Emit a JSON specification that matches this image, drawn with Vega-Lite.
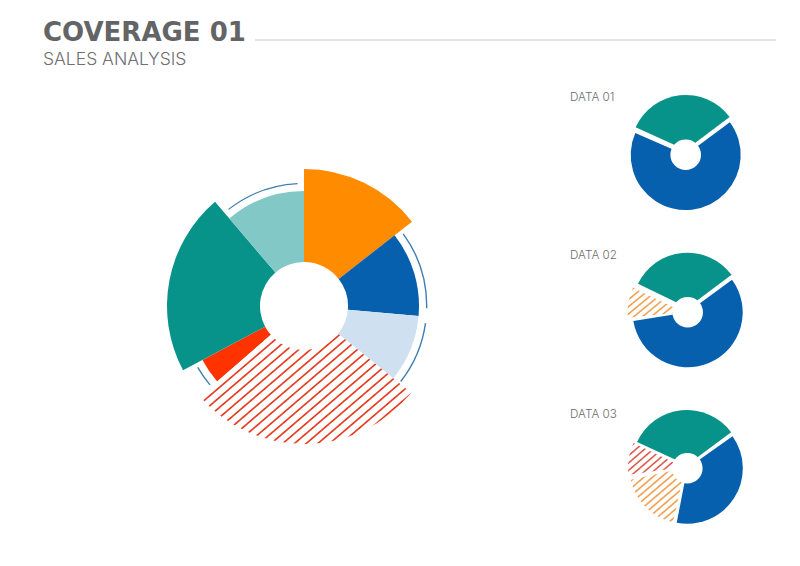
{"$schema":"https://vega.github.io/schema/vega-lite/v6.json","width":800,"height":566,"padding":0,"autosize":"none","background":"white","view":{"stroke":null},
"data":{"values":[
{"chart":"main","part":"orange","cx":304,"cy":306,"start":0,"end":52,"r0":44,"r":137},
{"chart":"main","part":"blue","cx":304,"cy":306,"start":52,"end":95,"r0":44,"r":115},
{"chart":"main","part":"lightblue","cx":304,"cy":306,"start":95,"end":129,"r0":44,"r":115},
{"chart":"main","part":"red","cx":304,"cy":306,"start":229,"end":242,"r0":44,"r":115},
{"chart":"main","part":"teal","cx":304,"cy":306,"start":242,"end":319.5,"r0":44,"r":137},
{"chart":"main","part":"lightteal","cx":304,"cy":306,"start":319.5,"end":360,"r0":44,"r":115},
{"chart":"main","part":"line","cx":304,"cy":306,"start":322,"end":357,"r0":122,"r":123.2},
{"chart":"main","part":"line","cx":304,"cy":306,"start":54,"end":91,"r0":122,"r":123.4},
{"chart":"main","part":"line","cx":304,"cy":306,"start":98,"end":128,"r0":122,"r":123.4},
{"chart":"main","part":"line","cx":304,"cy":306,"start":230,"end":240,"r0":122,"r":123.4},
{"chart":"d1","part":"blue","cx":685.7,"cy":155,"start":53.4,"end":293.5,"r0":0,"r":55},
{"chart":"d1","part":"teal","cx":685.7,"cy":150,"start":294.4,"end":413,"r0":0,"r":55},
{"chart":"d2","part":"blue","cx":687.7,"cy":312.3,"start":53.7,"end":261,"r0":0,"r":55},
{"chart":"d2","part":"teal","cx":687.5,"cy":307.7,"start":295.8,"end":413.2,"r0":0,"r":55},
{"chart":"d3","part":"blue","cx":687.3,"cy":468.3,"start":54.6,"end":191,"r0":0,"r":55.5},
{"chart":"d3","part":"teal","cx":687,"cy":465,"start":294.7,"end":413.4,"r0":0,"r":55},
{"chart":"main","part":"hatch_main","cx":304,"cy":306,"start":129,"end":229,"r0":44,"r":138},
{"chart":"d2","part":"hatch_d2","cx":683,"cy":312,"start":264,"end":296,"r0":0,"r":55.5},
{"chart":"d3","part":"hatch_d3o","cx":685,"cy":468,"start":192.5,"end":257.7,"r0":0,"r":55.5},
{"chart":"d3","part":"hatch_d3r","cx":683,"cy":467,"start":262,"end":296,"r0":0,"r":55},
{"chart":"d1","part":"hole","cx":685.7,"cy":154.7,"start":0,"end":360,"r0":0,"r":15.3},
{"chart":"d2","part":"hole","cx":687.7,"cy":312.3,"start":0,"end":360,"r0":0,"r":15.3},
{"chart":"d3","part":"hole","cx":687.3,"cy":468.3,"start":0,"end":360,"r0":0,"r":15.3}
]},
"encoding":{
"x":{"field":"cx","type":"quantitative","scale":{"domain":[0,800],"range":[0,800]},"axis":null},
"y":{"field":"cy","type":"quantitative","scale":{"domain":[0,566],"range":[0,566]},"axis":null},
"theta":{"field":"start","type":"quantitative","stack":null,"scale":{"domain":[0,360],"range":[0,6.283185]}},
"theta2":{"field":"end"},
"radius":{"field":"r","type":"quantitative","scale":{"type":"linear","domain":[0,400],"range":[0,400]}},
"radius2":{"field":"r0"}
},
"layer":[
{"transform":[{"filter":"indexof(['orange','blue','lightblue','red','teal','lightteal','line'],datum.part)>=0"}],"mark":{"type":"arc"},
"encoding":{"color":{"field":"part","type":"nominal","legend":null,"scale":{"domain":["orange","blue","lightblue","red","teal","lightteal","line"],"range":["#ff8c00","#0660ad","#cfe0f0","#ff3300","#08938a","#82c8c6","#3f7fb3"]}}}},
{"transform":[{"filter":"datum.part=='hatch_main'"}],"mark":{"type":"arc","fill":{"gradient":"linear","x1":0.008,"y1":0.005,"x2":1.624,"y2":0.99,"stops":[
{"offset":0,"color":"#fff"},
{"offset":0.0165,"color":"#fff"},{"offset":0.0195,"color":"#e63e22"},{"offset":0.022,"color":"#e63e22"},{"offset":0.025,"color":"#fff"},
{"offset":0.0415,"color":"#fff"},{"offset":0.0445,"color":"#e63e22"},{"offset":0.047,"color":"#e63e22"},{"offset":0.05,"color":"#fff"},
{"offset":0.0665,"color":"#fff"},{"offset":0.0695,"color":"#e63e22"},{"offset":0.072,"color":"#e63e22"},{"offset":0.075,"color":"#fff"},
{"offset":0.0915,"color":"#fff"},{"offset":0.0945,"color":"#e63e22"},{"offset":0.097,"color":"#e63e22"},{"offset":0.1,"color":"#fff"},
{"offset":0.1165,"color":"#fff"},{"offset":0.1195,"color":"#e63e22"},{"offset":0.122,"color":"#e63e22"},{"offset":0.125,"color":"#fff"},
{"offset":0.1415,"color":"#fff"},{"offset":0.1445,"color":"#e63e22"},{"offset":0.147,"color":"#e63e22"},{"offset":0.15,"color":"#fff"},
{"offset":0.1665,"color":"#fff"},{"offset":0.1695,"color":"#e63e22"},{"offset":0.172,"color":"#e63e22"},{"offset":0.175,"color":"#fff"},
{"offset":0.1915,"color":"#fff"},{"offset":0.1945,"color":"#e63e22"},{"offset":0.197,"color":"#e63e22"},{"offset":0.2,"color":"#fff"},
{"offset":0.2165,"color":"#fff"},{"offset":0.2195,"color":"#e63e22"},{"offset":0.222,"color":"#e63e22"},{"offset":0.225,"color":"#fff"},
{"offset":0.2415,"color":"#fff"},{"offset":0.2445,"color":"#e63e22"},{"offset":0.247,"color":"#e63e22"},{"offset":0.25,"color":"#fff"},
{"offset":0.2665,"color":"#fff"},{"offset":0.2695,"color":"#e63e22"},{"offset":0.272,"color":"#e63e22"},{"offset":0.275,"color":"#fff"},
{"offset":0.2915,"color":"#fff"},{"offset":0.2945,"color":"#e63e22"},{"offset":0.297,"color":"#e63e22"},{"offset":0.3,"color":"#fff"},
{"offset":0.3165,"color":"#fff"},{"offset":0.3195,"color":"#e63e22"},{"offset":0.322,"color":"#e63e22"},{"offset":0.325,"color":"#fff"},
{"offset":0.3415,"color":"#fff"},{"offset":0.3445,"color":"#e63e22"},{"offset":0.347,"color":"#e63e22"},{"offset":0.35,"color":"#fff"},
{"offset":0.3665,"color":"#fff"},{"offset":0.3695,"color":"#e63e22"},{"offset":0.372,"color":"#e63e22"},{"offset":0.375,"color":"#fff"},
{"offset":0.3915,"color":"#fff"},{"offset":0.3945,"color":"#e63e22"},{"offset":0.397,"color":"#e63e22"},{"offset":0.4,"color":"#fff"},
{"offset":0.4165,"color":"#fff"},{"offset":0.4195,"color":"#e63e22"},{"offset":0.422,"color":"#e63e22"},{"offset":0.425,"color":"#fff"},
{"offset":0.4415,"color":"#fff"},{"offset":0.4445,"color":"#e63e22"},{"offset":0.447,"color":"#e63e22"},{"offset":0.45,"color":"#fff"},
{"offset":0.4665,"color":"#fff"},{"offset":0.4695,"color":"#e63e22"},{"offset":0.472,"color":"#e63e22"},{"offset":0.475,"color":"#fff"},
{"offset":0.4915,"color":"#fff"},{"offset":0.4945,"color":"#e63e22"},{"offset":0.497,"color":"#e63e22"},{"offset":0.5,"color":"#fff"},
{"offset":0.5165,"color":"#fff"},{"offset":0.5195,"color":"#e63e22"},{"offset":0.522,"color":"#e63e22"},{"offset":0.525,"color":"#fff"},
{"offset":0.5415,"color":"#fff"},{"offset":0.5445,"color":"#e63e22"},{"offset":0.547,"color":"#e63e22"},{"offset":0.55,"color":"#fff"},
{"offset":0.5665,"color":"#fff"},{"offset":0.5695,"color":"#e63e22"},{"offset":0.572,"color":"#e63e22"},{"offset":0.575,"color":"#fff"},
{"offset":0.5915,"color":"#fff"},{"offset":0.5945,"color":"#e63e22"},{"offset":0.597,"color":"#e63e22"},{"offset":0.6,"color":"#fff"},
{"offset":0.6165,"color":"#fff"},{"offset":0.6195,"color":"#e63e22"},{"offset":0.622,"color":"#e63e22"},{"offset":0.625,"color":"#fff"},
{"offset":0.6415,"color":"#fff"},{"offset":0.6445,"color":"#e63e22"},{"offset":0.647,"color":"#e63e22"},{"offset":0.65,"color":"#fff"},
{"offset":0.6665,"color":"#fff"},{"offset":0.6695,"color":"#e63e22"},{"offset":0.672,"color":"#e63e22"},{"offset":0.675,"color":"#fff"},
{"offset":0.6915,"color":"#fff"},{"offset":0.6945,"color":"#e63e22"},{"offset":0.697,"color":"#e63e22"},{"offset":0.7,"color":"#fff"},
{"offset":0.7165,"color":"#fff"},{"offset":0.7195,"color":"#e63e22"},{"offset":0.722,"color":"#e63e22"},{"offset":0.725,"color":"#fff"},
{"offset":1,"color":"#fff"}
]}}},
{"transform":[{"filter":"datum.part=='hatch_d2'"}],"mark":{"type":"arc","fill":{"gradient":"linear","x1":0,"y1":0,"x2":1.093,"y2":0.721,"stops":[
{"offset":0,"color":"#fff"},
{"offset":0.055,"color":"#fff"},{"offset":0.072,"color":"#f0a04f"},{"offset":0.083,"color":"#f0a04f"},{"offset":0.1,"color":"#fff"},
{"offset":0.155,"color":"#fff"},{"offset":0.172,"color":"#f0a04f"},{"offset":0.183,"color":"#f0a04f"},{"offset":0.2,"color":"#fff"},
{"offset":0.255,"color":"#fff"},{"offset":0.272,"color":"#f0a04f"},{"offset":0.283,"color":"#f0a04f"},{"offset":0.3,"color":"#fff"},
{"offset":0.355,"color":"#fff"},{"offset":0.372,"color":"#f0a04f"},{"offset":0.383,"color":"#f0a04f"},{"offset":0.4,"color":"#fff"},
{"offset":0.455,"color":"#fff"},{"offset":0.472,"color":"#f0a04f"},{"offset":0.483,"color":"#f0a04f"},{"offset":0.5,"color":"#fff"},
{"offset":0.555,"color":"#fff"},{"offset":0.572,"color":"#f0a04f"},{"offset":0.583,"color":"#f0a04f"},{"offset":0.6,"color":"#fff"},
{"offset":0.655,"color":"#fff"},{"offset":0.672,"color":"#f0a04f"},{"offset":0.683,"color":"#f0a04f"},{"offset":0.7,"color":"#fff"},
{"offset":0.755,"color":"#fff"},{"offset":0.772,"color":"#f0a04f"},{"offset":0.783,"color":"#f0a04f"},{"offset":0.8,"color":"#fff"},
{"offset":0.855,"color":"#fff"},{"offset":0.872,"color":"#f0a04f"},{"offset":0.883,"color":"#f0a04f"},{"offset":0.9,"color":"#fff"},
{"offset":0.955,"color":"#fff"},{"offset":0.972,"color":"#f0a04f"},{"offset":0.983,"color":"#f0a04f"},{"offset":1,"color":"#fff"}
]}}},
{"transform":[{"filter":"datum.part=='hatch_d3r'"}],"mark":{"type":"arc","fill":{"gradient":"linear","x1":0,"y1":0,"x2":1.08,"y2":0.726,"stops":[
{"offset":0,"color":"#fff"},
{"offset":0.055,"color":"#fff"},{"offset":0.072,"color":"#dc5a4e"},{"offset":0.083,"color":"#dc5a4e"},{"offset":0.1,"color":"#fff"},
{"offset":0.155,"color":"#fff"},{"offset":0.172,"color":"#dc5a4e"},{"offset":0.183,"color":"#dc5a4e"},{"offset":0.2,"color":"#fff"},
{"offset":0.255,"color":"#fff"},{"offset":0.272,"color":"#dc5a4e"},{"offset":0.283,"color":"#dc5a4e"},{"offset":0.3,"color":"#fff"},
{"offset":0.355,"color":"#fff"},{"offset":0.372,"color":"#dc5a4e"},{"offset":0.383,"color":"#dc5a4e"},{"offset":0.4,"color":"#fff"},
{"offset":0.455,"color":"#fff"},{"offset":0.472,"color":"#dc5a4e"},{"offset":0.483,"color":"#dc5a4e"},{"offset":0.5,"color":"#fff"},
{"offset":0.555,"color":"#fff"},{"offset":0.572,"color":"#dc5a4e"},{"offset":0.583,"color":"#dc5a4e"},{"offset":0.6,"color":"#fff"},
{"offset":0.655,"color":"#fff"},{"offset":0.672,"color":"#dc5a4e"},{"offset":0.683,"color":"#dc5a4e"},{"offset":0.7,"color":"#fff"},
{"offset":0.755,"color":"#fff"},{"offset":0.772,"color":"#dc5a4e"},{"offset":0.783,"color":"#dc5a4e"},{"offset":0.8,"color":"#fff"},
{"offset":0.855,"color":"#fff"},{"offset":0.872,"color":"#dc5a4e"},{"offset":0.883,"color":"#dc5a4e"},{"offset":0.9,"color":"#fff"},
{"offset":0.955,"color":"#fff"},{"offset":0.972,"color":"#dc5a4e"},{"offset":0.983,"color":"#dc5a4e"},{"offset":1,"color":"#fff"}
]}}},
{"transform":[{"filter":"datum.part=='hatch_d3o'"}],"mark":{"type":"arc","fill":{"gradient":"linear","x1":0,"y1":0,"x2":1.008,"y2":1.179,"stops":[
{"offset":0,"color":"#fff"},
{"offset":0.0364,"color":"#fff"},{"offset":0.0477,"color":"#f0a04f"},{"offset":0.0552,"color":"#f0a04f"},{"offset":0.0667,"color":"#fff"},
{"offset":0.1031,"color":"#fff"},{"offset":0.1144,"color":"#f0a04f"},{"offset":0.1219,"color":"#f0a04f"},{"offset":0.1333,"color":"#fff"},
{"offset":0.1697,"color":"#fff"},{"offset":0.181,"color":"#f0a04f"},{"offset":0.1885,"color":"#f0a04f"},{"offset":0.2,"color":"#fff"},
{"offset":0.2364,"color":"#fff"},{"offset":0.2477,"color":"#f0a04f"},{"offset":0.2552,"color":"#f0a04f"},{"offset":0.2667,"color":"#fff"},
{"offset":0.3031,"color":"#fff"},{"offset":0.3144,"color":"#f0a04f"},{"offset":0.3219,"color":"#f0a04f"},{"offset":0.3333,"color":"#fff"},
{"offset":0.3697,"color":"#fff"},{"offset":0.381,"color":"#f0a04f"},{"offset":0.3885,"color":"#f0a04f"},{"offset":0.4,"color":"#fff"},
{"offset":0.4364,"color":"#fff"},{"offset":0.4477,"color":"#f0a04f"},{"offset":0.4552,"color":"#f0a04f"},{"offset":0.4667,"color":"#fff"},
{"offset":0.5031,"color":"#fff"},{"offset":0.5144,"color":"#f0a04f"},{"offset":0.5219,"color":"#f0a04f"},{"offset":0.5333,"color":"#fff"},
{"offset":0.5697,"color":"#fff"},{"offset":0.581,"color":"#f0a04f"},{"offset":0.5885,"color":"#f0a04f"},{"offset":0.6,"color":"#fff"},
{"offset":0.6364,"color":"#fff"},{"offset":0.6477,"color":"#f0a04f"},{"offset":0.6552,"color":"#f0a04f"},{"offset":0.6667,"color":"#fff"},
{"offset":0.7031,"color":"#fff"},{"offset":0.7144,"color":"#f0a04f"},{"offset":0.7219,"color":"#f0a04f"},{"offset":0.7333,"color":"#fff"},
{"offset":0.7697,"color":"#fff"},{"offset":0.781,"color":"#f0a04f"},{"offset":0.7885,"color":"#f0a04f"},{"offset":0.8,"color":"#fff"},
{"offset":0.8364,"color":"#fff"},{"offset":0.8477,"color":"#f0a04f"},{"offset":0.8552,"color":"#f0a04f"},{"offset":0.8667,"color":"#fff"},
{"offset":0.9031,"color":"#fff"},{"offset":0.9144,"color":"#f0a04f"},{"offset":0.9219,"color":"#f0a04f"},{"offset":0.9333,"color":"#fff"},
{"offset":0.9697,"color":"#fff"},{"offset":0.981,"color":"#f0a04f"},{"offset":0.9885,"color":"#f0a04f"},{"offset":1,"color":"#fff"}
]}}},
{"transform":[{"filter":"datum.part=='hole'"}],"mark":{"type":"arc","fill":"#ffffff"}},
{"data":{"values":[{"x":255,"x2":776,"y":40}]},"mark":{"type":"rule","color":"#c8c8c8","strokeWidth":1},
"encoding":{"theta":null,"theta2":null,"radius":null,"radius2":null,"x":{"field":"x","type":"quantitative","scale":{"domain":[0,800],"range":[0,800]},"axis":null},"x2":{"field":"x2"},"y":{"field":"y","type":"quantitative","scale":{"domain":[0,566],"range":[0,566]},"axis":null}}},
{"data":{"values":[{"label":"COVERAGE 01","x":43,"y":41}]},"mark":{"type":"text","align":"left","baseline":"alphabetic","font":"DejaVu Sans","fontWeight":700,"fontSize":26,"color":"#636466"},
"encoding":{"theta":null,"theta2":null,"radius":null,"radius2":null,"x":{"field":"x","type":"quantitative","scale":{"domain":[0,800],"range":[0,800]},"axis":null},"y":{"field":"y","type":"quantitative","scale":{"domain":[0,566],"range":[0,566]},"axis":null},"text":{"field":"label"}}},
{"data":{"values":[{"label":"SALES ANALYSIS","x":43,"y":65}]},"mark":{"type":"text","align":"left","baseline":"alphabetic","font":"Inter","fontWeight":300,"fontSize":17.5,"color":"#6d6e70"},
"encoding":{"theta":null,"theta2":null,"radius":null,"radius2":null,"x":{"field":"x","type":"quantitative","scale":{"domain":[0,800],"range":[0,800]},"axis":null},"y":{"field":"y","type":"quantitative","scale":{"domain":[0,566],"range":[0,566]},"axis":null},"text":{"field":"label"}}},
{"data":{"values":[{"label":"DATA 01","x":570,"y":101},{"label":"DATA 02","x":570,"y":259},{"label":"DATA 03","x":570,"y":418}]},"mark":{"type":"text","align":"left","baseline":"alphabetic","font":"Inter","fontWeight":300,"fontSize":11.7,"color":"#6d6e70"},
"encoding":{"theta":null,"theta2":null,"radius":null,"radius2":null,"x":{"field":"x","type":"quantitative","scale":{"domain":[0,800],"range":[0,800]},"axis":null},"y":{"field":"y","type":"quantitative","scale":{"domain":[0,566],"range":[0,566]},"axis":null},"text":{"field":"label"}}}
]}
